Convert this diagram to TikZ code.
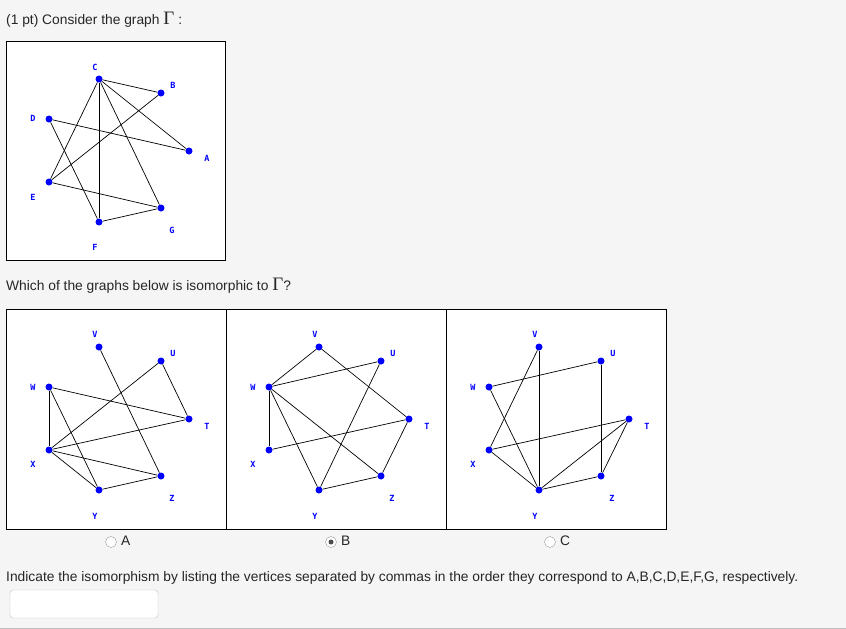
\documentclass[tikz,border=0pt]{standalone}
\usepackage{fontspec}
\setmainfont{Liberation Sans}
\newfontfamily\lblfont{DejaVu Sans Mono}
\newfontfamily\gamfont{Liberation Serif}
\begin{document}
\begin{tikzpicture}[x=1pt,y=-1pt,
  vtx/.style={circle,fill=blue,inner sep=0pt,minimum size=7pt},
  lbl/.style={text=blue,font=\lblfont\bfseries\fontsize{8.5}{9}\selectfont,inner sep=0pt},
  edge/.style={draw=black,line width=0.7pt},
  frame/.style={draw=black,line width=0.9pt,fill=white},
  txt/.style={anchor=west,inner sep=0pt,font=\fontsize{13.8}{16}\selectfont,text=black!85}]
\fill[black!4] (0,0) rectangle (846,629);
\useasboundingbox (0,0) rectangle (846,629);
\draw[black!25] (0,628) -- (846,628);
\node[txt] (t1) at (6,20) {(1 pt) Consider the graph {\gamfont\fontsize{19}{19}\selectfont Γ} :};
\node[txt] (t2) at (6,286) {Which of the graphs below is isomorphic to {\gamfont\fontsize{19}{19}\selectfont Γ}?};
\node[txt] (t3) at (6,578) {Indicate the isomorphism by listing the vertices separated by commas in the order they correspond to A,B,C,D,E,F,G, respectively.};
% top graph
\draw[frame] (6,41) rectangle (225,260);
\node[vtx] (C) at (99,79) {}; \node[vtx] (B) at (161,93) {};
\node[vtx] (D) at (49,119) {}; \node[vtx] (A) at (189,151) {};
\node[vtx] (E) at (49,182) {}; \node[vtx] (G) at (161,208) {};
\node[vtx] (F) at (99,222) {};
\node[lbl] (lC) at (95,67) {C}; \node[lbl] (lB) at (173,85) {B};
\node[lbl] (lD) at (33,118) {D}; \node[lbl] (lA) at (207,158) {A};
\node[lbl] (lE) at (33,197) {E}; \node[lbl] (lG) at (172,230) {G};
\node[lbl] (lF) at (95,247) {F};
\foreach \a/\b in {C/B,C/A,C/F,C/G,C/E,D/A,D/F,E/B,E/G,F/G} \draw[edge] (\a) -- (\b);
% three answer graphs
\foreach \g/\dx/\edges in {a/0/{V/Z,U/T,U/X,W/T,W/X,W/Y,X/T,X/Z,X/Y,Y/Z},
                           b/220/{V/W,V/T,W/U,W/X,W/Y,W/Z,X/T,U/Y,T/Z,Y/Z},
                           c/440/{V/X,V/Y,W/U,W/Y,U/Z,X/T,X/Y,T/Y,T/Z,Y/Z}} {
  \begin{scope}[xshift=\dx]
  \draw[frame] (6,309) rectangle (226,529);
  \node[vtx] (\g V) at (99,347) {}; \node[vtx] (\g U) at (161,361) {};
  \node[vtx] (\g W) at (49,387) {}; \node[vtx] (\g T) at (189,419) {};
  \node[vtx] (\g X) at (49,450) {}; \node[vtx] (\g Z) at (161,476) {};
  \node[vtx] (\g Y) at (99,490) {};
  \node[lbl] (\g lV) at (95,334) {V}; \node[lbl] (\g lU) at (173,353) {U};
  \node[lbl] (\g lW) at (33,387) {W}; \node[lbl] (\g lT) at (207,426) {T};
  \node[lbl] (\g lX) at (33,464) {X}; \node[lbl] (\g lZ) at (172,498) {Z};
  \node[lbl] (\g lY) at (95,516) {Y};
  \foreach \p/\q in \edges \draw[edge] (\g\p) -- (\g\q);
  \end{scope}}
% radio buttons
\node[circle,draw=black!40,fill=white,minimum size=11pt,inner sep=0pt] (ra) at (111,542) {};
\node[txt] (la) at (121,541) {A};
\node[circle,draw=black!40,fill=white,minimum size=11pt,inner sep=0pt] (rb) at (331,542) {};
\node[circle,fill=black!70,minimum size=5pt,inner sep=0pt] (rbd) at (331,542) {};
\node[txt] (lb) at (341,541) {B};
\node[circle,draw=black!40,fill=white,minimum size=11pt,inner sep=0pt] (rc) at (550,542) {};
\node[txt] (lc) at (560,541) {C};
% input box
\draw[black!25,fill=white,rounded corners=3pt] (10,590) rectangle (158,618);
\end{tikzpicture}
\end{document}
